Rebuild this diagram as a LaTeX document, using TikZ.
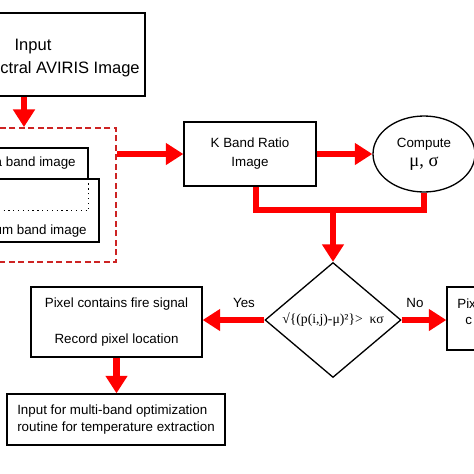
\documentclass[tikz,border=0pt]{standalone}
\usepackage{fontspec}
\setmainfont{Liberation Sans}
\newfontfamily\condfont{Liberation Serif}
\usetikzlibrary{arrows.meta,shapes.geometric}
\definecolor{dashred}{RGB}{205,35,35}
\tikzset{
  box/.style={draw, line width=0.75pt, fill=white, inner sep=0pt},
  flow/.style={red, line width=3.8pt, -{Triangle[length=10pt,width=12pt]}},
  seg/.style={red, line width=3.8pt},
  txt/.style={inner sep=0pt, font=\fontsize{7.6}{10}\selectfont},
  bigtxt/.style={inner sep=0pt, font=\fontsize{9.4}{13}\selectfont},
  dashbox/.style={draw=dashred, line width=1.1pt, dash pattern=on 3.4pt off 2pt},
  hidden/.style={dotted, line width=0.75pt}
}
\begin{document}
\begin{tikzpicture}[x=0.02cm, y=-0.02cm]
\useasboundingbox (0,0) rectangle (474,474);
\clip (0,0) rectangle (474,474);
\node[box, minimum width=4.84cm, minimum height=1.66cm] (input) at (24,54.5) {};
\node[bigtxt, anchor=base] (inputa) at (33,50) {Input};
\node[bigtxt, anchor=base east] (inputb) at (140,73) {ctral AVIRIS Image};
\node[dashbox, minimum width=2.52cm, minimum height=2.68cm] (group) at (53,195) {};
\node[box, minimum width=2.16cm, minimum height=1.24cm] (band1) at (34,179) {};
\node[box, minimum width=2.38cm, minimum height=1.26cm] (band2) at (39.5,210.5) {};
\draw[hidden] (band1.south west) -- (band1.south east) -- (band1.east |- band2.north);
\node[txt, anchor=base east] (band1txt) at (76,166) {a band image};
\node[txt, anchor=base east] (band2txt) at (87,234) {um band image};
\node[box, txt, align=center, minimum width=2.64cm, minimum height=1.28cm] (kratio) at (250,154) {K Band Ratio\\[0.8pt]Image};
\node[draw, ellipse, line width=0.75pt, inner sep=0pt, txt, align=center, minimum width=2.04cm, minimum height=1.52cm] (compute) at (424,154) {Compute\\[1pt]{\condfont\fontsize{10.5}{12}\selectfont μ, σ}};
\node[draw, diamond, aspect=1.18, line width=0.75pt, inner sep=0pt, minimum width=2.72cm, minimum height=2.3cm, font=\condfont\fontsize{7.8}{9}\selectfont] (test) at (333,320) {√\{(p(i,j)-μ)²\}> \ κσ};
\coordinate (join) at (333,210);
\draw[seg] ([xshift=0.12cm]kratio.south) |- (join) -| (compute.south);
\draw[flow] (join) -- (test.north);
\node[box, txt, align=center, minimum width=3.42cm, minimum height=1.4cm] (fire) at (116.5,322) {Pixel contains fire signal\\[10pt]Record pixel location};
\node[box, minimum width=1.86cm, minimum height=1.26cm] (nofire) at (493.5,318.5) {};
\node[txt, anchor=base west] (nofirea) at (457,308) {Pix};
\node[txt, anchor=base west] (nofireb) at (465,324) {c};
\node[box, txt, align=left, minimum width=4.36cm, minimum height=1.02cm] (output) at (116,419.5) {Input for multi-band optimization\\routine for temperature extraction};
\draw[flow] (input.south) -- (input.south |- group.north);
\draw[flow] (group.east |- kratio) -- (kratio.west);
\draw[flow] (kratio.east) -- (compute.west);
\draw[flow] (test.west) -- (test.west -| fire.east);
\draw[flow] (test.east) -- (test.east -| nofire.west);
\draw[flow] (fire.south) -- (fire.south |- output.north);
\node[txt] (yes) at (244,303) {Yes};
\node[txt] (no) at (415,303) {No};
\end{tikzpicture}
\end{document}
